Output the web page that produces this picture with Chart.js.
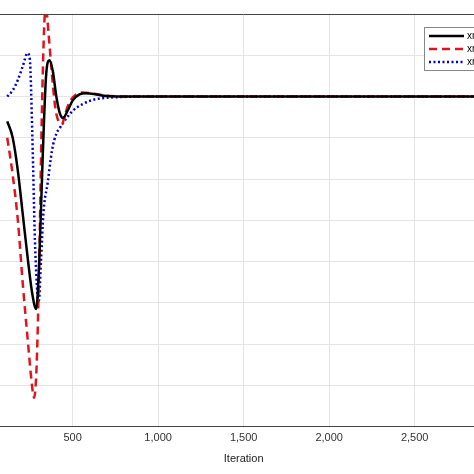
<!DOCTYPE html>
<html><head><meta charset="utf-8">
<script src="https://cdn.jsdelivr.net/npm/chart.js@4/dist/chart.umd.min.js"></script>
<style>html,body{margin:0;padding:0;overflow:hidden;width:474px;height:474px;background:#fff}
#wrap{position:absolute;left:-21px;top:0;width:540px;height:474px}</style>
</head><body><div id="wrap"><canvas id="c"></canvas></div>
<script>
const labels = ["xm1","xm2","xm3"];
const xTicks = [0,500,1000,1500,2000,2500,3000];
const blackX = [118,150,180,210,240,265,287,305,325,345,365,385,405,425,444,470,500,540,580,640,700,800,3000];
const blackY = [-0.6,-1.0,-1.8,-2.9,-4.0,-4.8,-5.15,-4.0,-1.5,0.5,0.88,0.6,0.0,-0.4,-0.52,-0.35,-0.1,0.05,0.08,0.05,0.01,0,0];
const redX = [118,150,180,210,240,260,275,290,305,320,335,345,360,380,400,420,438,455,480,520,560,620,700,800,3000];
const redY = [-1.0,-1.9,-3.0,-4.6,-6.0,-6.9,-7.3,-6.5,-4.0,-0.5,1.8,2.1,1.5,0.5,-0.3,-0.62,-0.67,-0.45,-0.15,0.05,0.1,0.07,0.02,0,0];
const blueX = [118,150,180,210,236,250,265,280,295,303,315,330,354,380,405,427,460,500,560,620,700,800,900,3000];
const blueY = [0,0.15,0.4,0.75,1.05,0.9,-1.0,-3.5,-4.8,-4.95,-4.0,-2.8,-2.1,-1.3,-0.9,-0.75,-0.55,-0.35,-0.18,-0.08,-0.03,-0.01,0,0];
const pts=(xs,ys)=>xs.map((x,i)=>({x,y:ys[i]}));
const legendPlugin={id:'lg',afterDraw(ch){const c=ch.ctx;const x0=445,y0=27,w=90,h=43;
 c.save();c.fillStyle='#fff';c.fillRect(x0,y0,w,h);c.strokeStyle='#888';c.lineWidth=1;c.strokeRect(x0+0.5,y0+0.5,w,h);
 ch.data.datasets.forEach((d,i)=>{const y=y0+9+i*13;c.beginPath();c.strokeStyle=d.borderColor;c.lineWidth=d.borderWidth;c.setLineDash(d.borderDash||[]);
 c.moveTo(x0+5,y);c.lineTo(x0+40,y);c.stroke();c.setLineDash([]);c.fillStyle='#000';c.font='10px Arial, Liberation Sans';c.textBaseline='middle';c.fillText(d.label,x0+43,y);});
 c.restore();}};
const topPlugin={id:'top',afterDraw(ch){const a=ch.chartArea,c=ch.ctx;c.save();c.strokeStyle='#444';c.lineWidth=1;c.beginPath();c.moveTo(a.left,a.top+0.5);c.lineTo(a.right,a.top+0.5);c.stroke();c.restore();}};
new Chart(document.getElementById('c'),{type:'line',
data:{datasets:[
{label:labels[0],data:pts(blackX,blackY),borderColor:'#000',borderWidth:2.5},
{label:labels[1],data:pts(redX,redY),borderColor:'#e0141e',borderWidth:2.5,borderDash:[8,5]},
{label:labels[2],data:pts(blueX,blueY),borderColor:'#0000c8',borderWidth:2.5,borderDash:[2,2.5]}]},
options:{animation:false,responsive:true,maintainAspectRatio:false,
 elements:{point:{radius:0},line:{cubicInterpolationMode:'monotone'}},
 layout:{padding:{top:14,left:0,right:0,bottom:4}},
 plugins:{legend:{display:false},tooltip:{enabled:false}},
 scales:{
  x:{type:'linear',min:0,max:3000,afterBuildTicks:s=>{s.ticks=xTicks.map(v=>({value:v}));},
   grid:{color:'#e4e4e4',drawTicks:false},border:{color:'#444'},
   ticks:{color:'#333',font:{size:11,family:'Arial, Liberation Sans'},padding:5},
   title:{display:true,text:'Iteration',color:'#222',font:{size:11,family:'Arial, Liberation Sans'},padding:{top:3}}},
  y:{min:-8,max:2,ticks:{display:false,stepSize:1},grid:{color:'#e4e4e4',drawTicks:false},border:{display:false},afterFit:s=>{s.width=0;}}
 }},
plugins:[legendPlugin,topPlugin]});
</script></body></html>
